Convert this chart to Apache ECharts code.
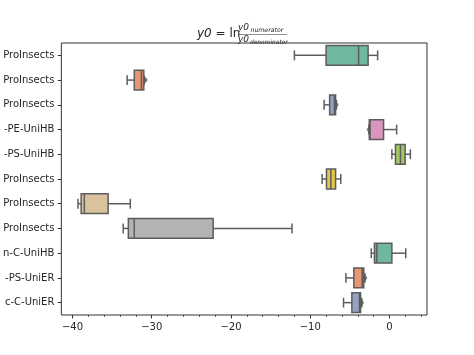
<!DOCTYPE html>
<html>
<head>
<meta charset="utf-8">
<script src="https://cdn.jsdelivr.net/npm/echarts@6/dist/echarts.min.js"></script>
<style>html,body{margin:0;padding:0;background:#fff;}#c{width:474px;height:355px;}</style>
</head>
<body>
<div id="c"></div>
<script>
// ---- data ----
const categories = ['ProInsects','ProInsects','ProInsects','-PE-UniHB','-PS-UniHB','ProInsects','ProInsects','ProInsects','n-C-UniHB','-PS-UniER','c-C-UniER'];
const whiskerLow  = [-12.0, -33.1, -8.25, -2.6, 0.3, -8.5, -39.3, -33.6, -2.3, -5.5, -5.8];
const q1          = [-8.0, -32.2, -7.55, -2.55, 0.75, -7.95, -38.9, -32.95, -1.9, -4.5, -4.75];
const median      = [-3.9, -31.3, -6.95, -2.45, 1.38, -7.4, -38.5, -32.2, -1.6, -3.45, -3.8];
const q3          = [-2.7, -31.0, -6.8, -0.75, 1.97, -6.8, -35.5, -22.25, 0.3, -3.25, -3.65];
const whiskerHigh = [-1.5, -30.95, -6.7, 0.9, 2.63, -6.15, -32.7, -12.3, 2.05, -3.1, -3.5];
const fliers = [[-30.85, 1], [-30.75, 1], [-6.65, 2], [-2.65, 3], [-3.1, 9], [-3.05, 9], [-3.45, 10]];
const majorTicks = [-40, -30, -20, -10, 0];
const minorTicks = [-38, -36, -34, -32, -28, -26, -24, -22, -18, -16, -14, -12, -8, -6, -4, -2, 2, 4];
const boxColors = ['#71b6a1','#e99675','#95a3c3','#db96c0','#a2c764','#e5c849','#dbc29e','#b3b3b3','#71b6a1','#e99675','#95a3c3'];

const LINE = '#5c5c5c';
const TXT = '#262626';
const FONT = 'DejaVu Sans';
const rows = categories.map((c, i) => [i, whiskerLow[i], q1[i], median[i], q3[i], whiskerHigh[i]]);

const chart = echarts.init(document.getElementById('c'), null, {renderer: 'canvas'});
const xMin = -41.4, xMax = 4.73;

function renderItem(params, api) {
  const i = api.value(0);
  const yc = api.coord([0, i])[1];
  const band = api.size([0, 1])[1];
  const h = band * 0.8, cap = band * 0.4;
  const X = k => api.coord([api.value(k), i])[0];
  const xl = X(1), xa = X(2), xm = X(3), xb = X(4), xh = X(5);
  const ls = {stroke: LINE, lineWidth: 1.5, fill: null};
  return {
    type: 'group',
    children: [
      {type: 'line', shape: {x1: xl, y1: yc, x2: xa, y2: yc}, style: ls},
      {type: 'line', shape: {x1: xb, y1: yc, x2: xh, y2: yc}, style: ls},
      {type: 'line', shape: {x1: xl, y1: yc - cap / 2, x2: xl, y2: yc + cap / 2}, style: ls},
      {type: 'line', shape: {x1: xh, y1: yc - cap / 2, x2: xh, y2: yc + cap / 2}, style: ls},
      {type: 'rect', shape: {x: xa, y: yc - h / 2, width: xb - xa, height: h}, style: {fill: boxColors[i], stroke: LINE, lineWidth: 1.5}},
      {type: 'line', shape: {x1: xm, y1: yc - h / 2, x2: xm, y2: yc + h / 2}, style: ls}
    ]
  };
}

const option = {
  animation: false,
  backgroundColor: '#fff',
  grid: {left: 59, right: 47, top: 43, bottom: 40, show: true, borderColor: '#333', borderWidth: 1, backgroundColor: 'transparent', z: 5},
  xAxis: [{
    type: 'value', min: xMin, max: xMax,
    axisLine: {show: false, onZero: false}, splitLine: {show: false},
    axisTick: {show: true, customValues: majorTicks, length: 3.5, lineStyle: {color: '#333', width: 1}},
    axisLabel: {customValues: majorTicks, fontSize: 10, color: TXT, fontFamily: FONT, margin: 7,
      formatter: v => String(v).replace('-', '\u2212')}
  }, {
    type: 'value', min: xMin, max: xMax, position: 'bottom',
    axisLine: {show: false, onZero: false}, splitLine: {show: false},
    axisTick: {show: true, customValues: minorTicks, length: 2, lineStyle: {color: '#333', width: 0.8}},
    axisLabel: {show: false}
  }],
  yAxis: {
    type: 'category', data: categories, inverse: true, position: 'left',
    axisLine: {show: false, onZero: false}, splitLine: {show: false},
    axisTick: {show: true, alignWithLabel: true, length: 3.5, lineStyle: {color: '#333', width: 1}},
    axisLabel: {fontSize: 10, color: TXT, fontFamily: FONT, margin: 7}
  },
  graphic: [
    {type: 'text', x: 197, y: 34, z: 1, style: {text: '{i|y0} = ln', rich: {i: {fontStyle: 'italic', fontSize: 12, fontFamily: FONT, fill: TXT}}, fontSize: 12, fontFamily: FONT, fill: TXT, verticalAlign: 'middle'}},
    {type: 'text', x: 238, y: 28, z: 1, style: {text: 'y0', fontStyle: 'italic', fontSize: 9, fontFamily: FONT, fill: TXT, verticalAlign: 'middle'}},
    {type: 'text', x: 250.5, y: 30.5, z: 1, style: {text: 'numerator', fontStyle: 'italic', fontSize: 6.2, fontFamily: FONT, fill: TXT, verticalAlign: 'middle'}},
    {type: 'line', z: 1, shape: {x1: 238, y1: 34.5, x2: 287, y2: 34.5}, style: {stroke: TXT, lineWidth: 0.5}},
    {type: 'text', x: 238, y: 40, z: 1, style: {text: 'y0', fontStyle: 'italic', fontSize: 9, fontFamily: FONT, fill: TXT, verticalAlign: 'middle'}},
    {type: 'text', x: 250, y: 42.5, z: 1, style: {text: 'denominator', fontStyle: 'italic', fontSize: 5.9, fontFamily: FONT, fill: TXT, verticalAlign: 'middle'}}
  ],
  series: [{
    type: 'custom', renderItem: renderItem, data: rows,
    encode: {x: [1, 2, 3, 4, 5], y: 0}, z: 3
  }, {
    type: 'scatter', data: fliers, symbol: 'diamond', symbolSize: [4, 6],
    itemStyle: {color: '#666'}, z: 2
  }]
};
chart.setOption(option);
</script>
</body>
</html>
